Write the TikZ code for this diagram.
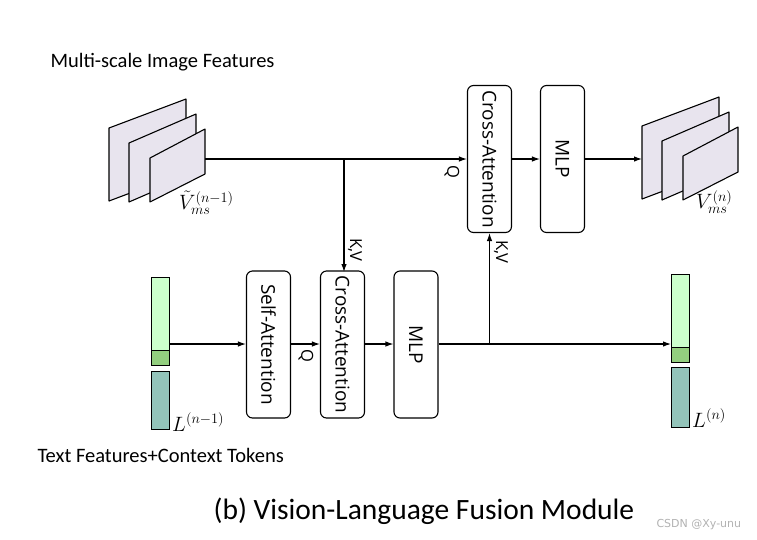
\documentclass[tikz,border=0pt]{standalone}
\usepackage{fontspec}
\setmainfont{Carlito}
\newfontfamily\boxfont{Open Sans}
\newfontfamily\wmfont{DejaVu Sans}
\usetikzlibrary{arrows.meta}
\definecolor{planefill}{HTML}{E8E4EE}
\definecolor{lightg}{HTML}{CCFFCC}
\definecolor{darkg}{HTML}{93CF7F}
\definecolor{tealc}{HTML}{93C4BA}
\tikzset{
  box/.style={draw, line width=1.1pt, rounded corners=6pt, fill=white,
    minimum width=44pt, minimum height=147pt, inner sep=0pt},
  boxtext/.style={font=\boxfont\fontsize{19}{22}\selectfont, rotate=-90},
  arr/.style={-{Latex[length=8pt,width=5.5pt]}, line width=1.1pt},
  ln/.style={line width=1.1pt},
  plane/.style={draw, line width=1.1pt, fill=planefill, line join=round},
  lbl/.style={font=\boxfont\fontsize{16.5}{18}\selectfont, rotate=-90, inner sep=0pt},
  mlbl/.style={font=\fontsize{20}{22}\selectfont, inner sep=0pt},
  bar/.style={draw, line width=1pt},
  captxt/.style={font=\fontsize{20.5}{24}\selectfont},
}
\begin{document}
\begin{tikzpicture}[x=1pt,y=-1pt]
\useasboundingbox (0,0) rectangle (757,539);

% left image planes
\draw[plane] (109,128) -- (186,99) -- (186,172) -- (109,201) -- cycle;
\draw[plane] (129,143) -- (196,114) -- (196,173) -- (129,202) -- cycle;
\draw[plane] (150,158) -- (205,129) -- (205,174) -- (150,202) -- cycle;
% right image planes
\draw[plane] (642,126) -- (719,97) -- (719,170) -- (642,199) -- cycle;
\draw[plane] (662,141) -- (729,112) -- (729,171) -- (662,200) -- cycle;
\draw[plane] (683,156) -- (738,127) -- (738,172) -- (683,200) -- cycle;
\coordinate (vin) at (205,159);
\coordinate (vout) at (642,159);

\node[mlbl, anchor=west] (vinlbl) at (179,203) {$\tilde{V}_{ms}^{(n-1)}$};
\node[mlbl, anchor=west] (voutlbl) at (696,202) {$V_{ms}^{(n)}$};

% text bars left
\draw[bar, fill=lightg] (151,277) rectangle (169,350);
\draw[bar, fill=darkg] (151,350) rectangle (169,365);
\draw[bar, fill=tealc] (151,371) rectangle (169,429);
\coordinate (lin) at (169,344);
\node[mlbl, anchor=west] (linlbl) at (172,422) {$L^{(n-1)}$};
% text bars right
\draw[bar, fill=lightg] (671,274) rectangle (689,347);
\draw[bar, fill=darkg] (671,347) rectangle (689,362);
\draw[bar, fill=tealc] (671,367) rectangle (689,427);
\coordinate (lout) at (671,344);
\node[mlbl, anchor=west] (loutlbl) at (692,418) {$L^{(n)}$};

% boxes
\node[box] (ca1) at (489.5,159) {};
\node[boxtext] at (ca1) {Cross-Attention};
\node[box] (mlp1) at (562.5,159) {};
\node[boxtext] at (mlp1) {MLP};
\node[box] (sa) at (268.5,344.5) {};
\node[boxtext] at (sa) {Self-Attention};
\node[box] (ca2) at (342.5,344.5) {};
\node[boxtext] at (ca2) {Cross-Attention};
\node[box] (mlp2) at (416,344.5) {};
\node[boxtext] at (mlp2) {MLP};

% top path
\draw[arr] (vin) -- (ca1.west |- vin);
\node[lbl] (q1) at (452,172) {Q};
\draw[arr] (ca1.east |- vin) -- (mlp1.west |- vin);
\draw[arr] (mlp1.east |- vin) -- (vout);
\coordinate (kv1) at (344,159);
\draw[arr] (kv1) -- (344,272);
\node[lbl] (kvl1) at (355,250) {K,V};

% bottom path
\draw[arr] (lin) -- (sa.west |- lin);
\draw[arr] (sa.east |- lin) -- (ca2.west |- lin);
\node[lbl] (q2) at (306,356) {Q};
\draw[arr] (ca2.east |- lin) -- (mlp2.west |- lin);
\draw[arr] (mlp2.east |- lin) -- (lout);
\coordinate (kv2) at (ca1.south |- lin);
\draw[arr] (kv2) -- (ca1.south);
\node[lbl] (kvl2) at (501,252) {K,V};

% texts
\node[anchor=west, captxt] (t1) at (47,62) {Multi-scale Image Features};
\node[anchor=west, captxt] (t2) at (34,455) {Text Features+Context Tokens};
\node[font=\fontsize{29.5}{32}\selectfont] (title) at (424,511) {(b) Vision-Language Fusion Module};
\node[anchor=west, font=\wmfont\fontsize{11}{13}\selectfont, text=black!30] (wm) at (653,525) {CSDN @Xy-unu};
\end{tikzpicture}
\end{document}
